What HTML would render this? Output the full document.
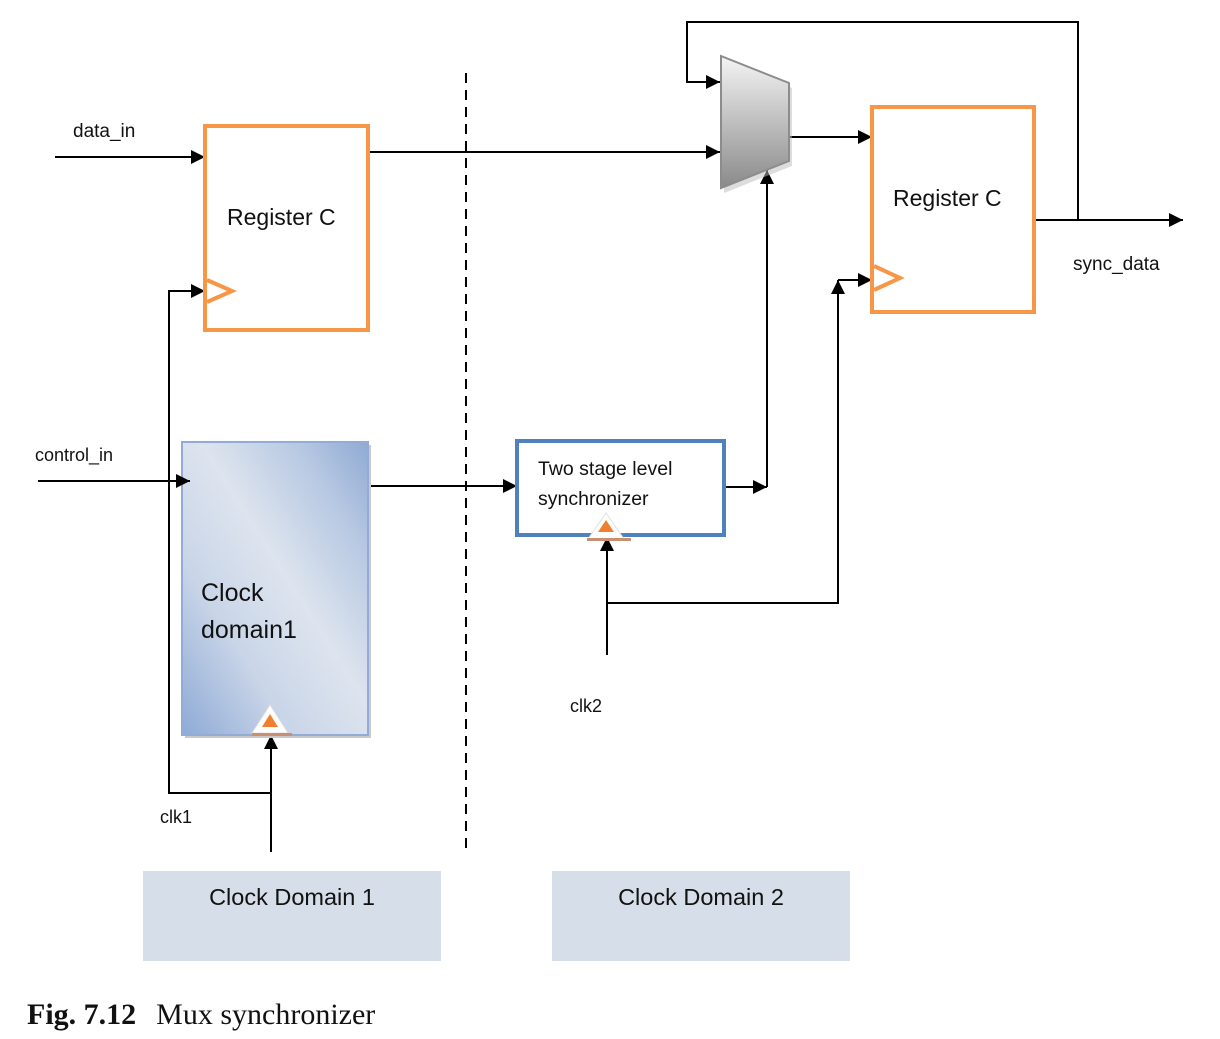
<!DOCTYPE html>
<html><head><meta charset="utf-8"><style>
html,body{margin:0;padding:0;background:#fff;}
svg{display:block;}
text{font-family:"Liberation Sans",sans-serif;fill:#111;}
</style></head><body>
<svg width="1220" height="1039" viewBox="0 0 1220 1039" xmlns="http://www.w3.org/2000/svg">
<defs>
<marker id="a" viewBox="0 0 10 10" refX="10" refY="5" markerWidth="14" markerHeight="14" markerUnits="userSpaceOnUse" orient="auto"><path d="M0,0 L10,5 L0,10 z" fill="#000"/></marker>
<linearGradient id="cd" x1="0" y1="1" x2="1" y2="0">
<stop offset="0" stop-color="#8eaad6"/><stop offset="0.3" stop-color="#c9d5e8"/><stop offset="0.55" stop-color="#dde4ee"/><stop offset="0.8" stop-color="#b8c9e3"/><stop offset="1" stop-color="#8faad3"/></linearGradient>
<linearGradient id="mx" x1="0" y1="0" x2="0" y2="1"><stop offset="0" stop-color="#f4f4f4"/><stop offset="1" stop-color="#8a8a8a"/></linearGradient>
</defs>
<g stroke="#000" stroke-width="2" fill="none">
<line x1="466" y1="73" x2="466" y2="848" stroke-dasharray="10,7"/>
<line x1="55" y1="157" x2="205" y2="157" marker-end="url(#a)"/>
<line x1="368" y1="152" x2="720" y2="152" marker-end="url(#a)"/>
<polyline points="1078,220 1078,22 687,22 687,82 720,82" marker-end="url(#a)"/>
<line x1="789" y1="137" x2="872" y2="137" marker-end="url(#a)"/>
<line x1="1034" y1="220" x2="1183" y2="220" marker-end="url(#a)"/>
<polyline points="607,603 838,603 838,280" marker-end="url(#a)"/>
<line x1="838" y1="280" x2="872" y2="280" marker-end="url(#a)"/>
<line x1="724" y1="487" x2="767" y2="487" marker-end="url(#a)"/>
<line x1="767" y1="487" x2="767" y2="170" marker-end="url(#a)"/>
<line x1="607" y1="655" x2="607" y2="537" marker-end="url(#a)"/>
<line x1="368" y1="486" x2="517" y2="486" marker-end="url(#a)"/>
<line x1="271" y1="852" x2="271" y2="735" marker-end="url(#a)"/>
<polyline points="271,793 169,793 169,291 205,291" marker-end="url(#a)"/>
</g>
<rect x="205" y="126" width="163" height="204" fill="none" stroke="#f79646" stroke-width="4"/>
<polyline points="207,280 232,291 207,302" fill="none" stroke="#f79646" stroke-width="4"/>
<rect x="872" y="107" width="162" height="205" fill="none" stroke="#f79646" stroke-width="4"/>
<polyline points="874,266 900,278 874,290" fill="none" stroke="#f79646" stroke-width="4"/>
<polygon points="724,61 792,88 792,166 724,193" fill="#bbb" opacity="0.5"/>
<polygon points="721,56 789,83 789,161 721,188" fill="url(#mx)" stroke="#8c8c8c" stroke-width="2"/>
<rect x="185" y="445" width="186" height="293" fill="#c9c9c9"/>
<rect x="182" y="442" width="186" height="293" fill="url(#cd)" stroke="#92acd6" stroke-width="2"/>
<line x1="38" y1="481" x2="190" y2="481" stroke="#000" stroke-width="2" marker-end="url(#a)"/>
<rect x="517" y="441" width="207" height="94" fill="#fff" stroke="#4f81bd" stroke-width="4"/>
<polygon points="270,705 252,733 288,733" fill="#fff" stroke="#e0e0e0"/>
<polygon points="270,714 262,727 278,727" fill="#f08030"/>
<rect x="252" y="733" width="40" height="3" fill="#c89070"/>
<polygon points="606,513 588,539 624,539" fill="#fff" stroke="#e0e0e0"/>
<polygon points="606,520 598,532 614,532" fill="#f08030"/>
<rect x="587" y="538" width="44" height="3" fill="#c89070"/>
<rect x="143" y="871" width="298" height="90" fill="#d6dfe9"/>
<rect x="552" y="871" width="298" height="90" fill="#d6dfe9"/>
<text x="73" y="137" font-size="19">data_in</text>
<text x="227" y="225" font-size="23">Register C</text>
<text x="893" y="206" font-size="23">Register C</text>
<text x="1073" y="270" font-size="19">sync_data</text>
<text x="35" y="461" font-size="18">control_in</text>
<text x="538" y="475" font-size="19.5">Two stage level</text>
<text x="538" y="505" font-size="19.5">synchronizer</text>
<text x="201" y="601" font-size="25">Clock</text>
<text x="201" y="638" font-size="25">domain1</text>
<text x="570" y="712" font-size="18">clk2</text>
<text x="160" y="823" font-size="18">clk1</text>
<text x="292" y="905" font-size="23.5" text-anchor="middle">Clock Domain 1</text>
<text x="701" y="905" font-size="23.5" text-anchor="middle">Clock Domain 2</text>
<text x="27" y="1024" font-size="30" style="font-family:'Liberation Serif',serif"><tspan font-weight="bold">Fig. 7.12</tspan><tspan dx="20">Mux synchronizer</tspan></text>
</svg>
</body></html>
